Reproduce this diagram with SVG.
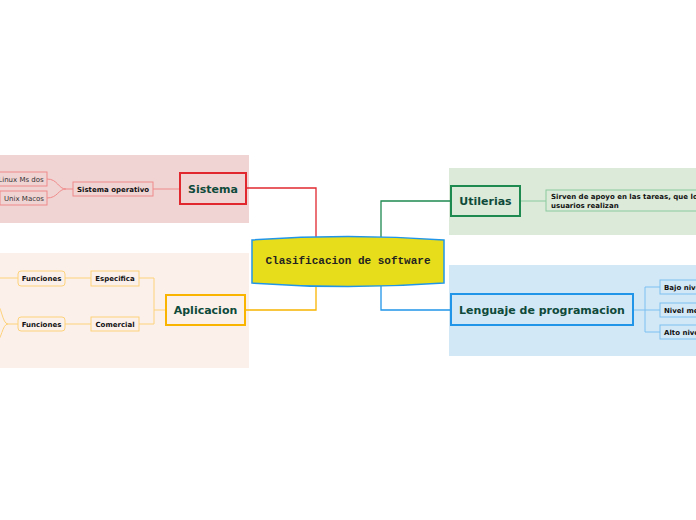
<svg xmlns="http://www.w3.org/2000/svg" width="696" height="520" viewBox="0 0 696 520">
<style>
.t{font-family:Verdana,"DejaVu Sans",sans-serif;font-weight:bold;fill:#0f4a3a}
.s{font-family:Verdana,"DejaVu Sans",sans-serif;font-weight:bold;font-size:7px;fill:#111}
.n{font-family:Verdana,"DejaVu Sans",sans-serif;font-size:7px;fill:#333}
.c{fill:none;stroke-width:1.3}
</style>
<rect width="696" height="520" fill="#fff"/>
<rect x="0" y="155" width="249" height="68" fill="#f0d4d4"/>
<rect x="0" y="253" width="249" height="115" fill="#fcf0eb"/>
<rect x="449" y="168" width="247" height="67" fill="#dcebd9"/>
<rect x="449" y="265" width="247" height="91" fill="#d2e8f7"/>
<g id="connectors">
<path class="c" stroke="#e0282e" d="M316,237V188H246"/>
<path class="c" stroke="#f8b400" d="M316,286V310H245"/>
<path class="c" stroke="#1e8a50" d="M381,237V201H451"/>
<path class="c" stroke="#2196e8" d="M381,286V310H451"/>
<path fill="none" stroke="#f08a8a" d="M180,189H153M73,189H66C58,189 58,179 47,179M66,189C58,189 58,198 47,198"/>
<path fill="none" stroke="#fcd27a" d="M166,310H154M154,278V324M154,278H139M154,324H139M91,278H65M91,324H65M18,278H0M18,324H8C2,324 2,305 -5,302M8,324C2,324 2,340 -5,344"/>
<path fill="none" stroke="#8cc9a0" d="M520,201H546"/>
<path fill="none" stroke="#7cc0f0" d="M633,310H645M645,287V332M645,287H660M645,310H660M645,332H660"/>
</g>
<g id="center">
<path d="M252,240Q348,233 444,240V283Q348,290 252,283Z" fill="#e8dd1a" stroke="#2196e8" stroke-width="1.5"/>
<text x="348" y="264" font-family="'Liberation Mono',monospace" font-size="11" font-weight="bold" fill="#222" text-anchor="middle">Clasificacion de software</text>
</g>
<g id="sistema">
<rect x="180" y="173" width="66" height="31" fill="#f0d4d4" stroke="#e0282e" stroke-width="2"/>
<text class="t" x="213" y="193" font-size="11" text-anchor="middle">Sistema</text>
</g>
<g id="so"><rect x="73" y="182" width="80" height="14" fill="#f0d4d4" stroke="#f08a8a"/><text class="s" x="113" y="192" text-anchor="middle">Sistema operativo</text></g>
<g id="linux"><rect x="-3" y="172" width="50" height="14" fill="#f0d4d4" stroke="#f08a8a"/><text class="n" x="21" y="182" text-anchor="middle">Linux Ms dos</text></g>
<g id="unix"><rect x="0" y="191" width="47" height="14" fill="#f0d4d4" stroke="#f08a8a"/><text class="n" x="24" y="201" text-anchor="middle">Unix Macos</text></g>
<g id="aplicacion">
<rect x="166" y="295" width="79" height="30" fill="#fcf0eb" stroke="#f8b400" stroke-width="2"/>
<text class="t" x="205.5" y="314" font-size="11" text-anchor="middle">Aplicacion</text>
</g>
<g id="especifica"><rect x="91" y="271" width="48" height="15" fill="#fcf0eb" stroke="#fcd27a"/><text class="s" x="115" y="281" text-anchor="middle">Especifica</text></g>
<g id="comercial"><rect x="91" y="317" width="48" height="14" fill="#fcf0eb" stroke="#fcd27a"/><text class="s" x="115" y="327" text-anchor="middle">Comercial</text></g>
<g id="funciones1"><rect x="18" y="271" width="47" height="15" rx="3" fill="#fcf0eb" stroke="#fcd27a"/><text class="s" x="41.5" y="281" text-anchor="middle">Funciones</text></g>
<g id="funciones2"><rect x="18" y="317" width="47" height="14" rx="3" fill="#fcf0eb" stroke="#fcd27a"/><text class="s" x="41.5" y="327" text-anchor="middle">Funciones</text></g>
<g id="utilerias">
<rect x="451" y="186" width="69" height="30" fill="#dcebd9" stroke="#1e8a50" stroke-width="2"/>
<text class="t" x="485.5" y="205" font-size="11" text-anchor="middle">Utilerias</text>
</g>
<g id="sirven"><rect x="546" y="190" width="160" height="21" fill="#dcebd9" stroke="#8cc9a0"/><text class="s" x="551" y="199">Sirven de apoyo en las tareas, que los</text><text class="s" x="551" y="208">usuarios realizan</text></g>
<g id="lenguaje">
<rect x="451" y="294" width="182" height="31" fill="#d2e8f7" stroke="#2196e8" stroke-width="2"/>
<text class="t" x="542" y="314" font-size="11" text-anchor="middle">Lenguaje de programacion</text>
</g>
<g id="bajo"><rect x="660" y="280" width="50" height="14" fill="#d2e8f7" stroke="#7cc0f0"/><text class="s" x="664" y="290">Bajo nivel</text></g>
<g id="medio"><rect x="660" y="303" width="50" height="14" fill="#d2e8f7" stroke="#7cc0f0"/><text class="s" x="664" y="313">Nivel medio</text></g>
<g id="alto"><rect x="660" y="325" width="50" height="14" fill="#d2e8f7" stroke="#7cc0f0"/><text class="s" x="664" y="335">Alto nivel</text></g>
</svg>
